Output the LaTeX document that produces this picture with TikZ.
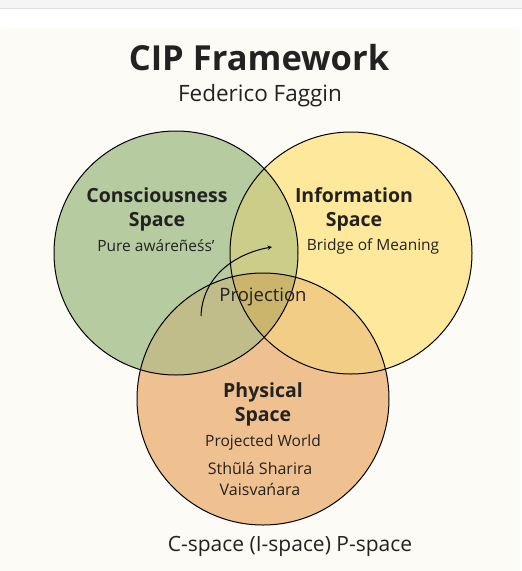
\documentclass[tikz,border=0pt]{standalone}
\usepackage{fontspec}
\setmainfont{Open Sans}

\definecolor{paper}{HTML}{FDFBF6}
\definecolor{topbar}{HTML}{F5F5F5}
\definecolor{ink}{HTML}{222222}
\definecolor{cgreen}{HTML}{B6CCA0}
\definecolor{iyellow}{HTML}{FDE89C}
\definecolor{porange}{HTML}{F0C190}
\definecolor{ci}{HTML}{CCCD88}
\definecolor{cp}{HTML}{C0BD8A}
\definecolor{ip}{HTML}{F2CD85}
\definecolor{cip}{HTML}{CBB46C}

\def\cspace{(176,253) circle (122pt)}
\def\ispace{(351,253) circle (121pt)}
\def\pspace{(263,399) circle (126pt)}

\begin{document}
\begin{tikzpicture}[x=1pt,y=-1pt]
	\tikzset{every node/.style={text=ink, inner sep=0pt, align=center},
		head/.style={font=\fontsize{19.5}{24}\selectfont\bfseries},
		sub/.style={font=\fontsize{15.5}{21}\selectfont}}

	\useasboundingbox (0,0) rectangle (522,571);
	\fill[white] (0,0) rectangle (522,571);
	\fill[topbar] (0,0) rectangle (522,8);
	\draw[black!12] (0,8) -- (522,8);
	\fill[paper, rounded corners=6pt] (0,28) rectangle (520,575);

	% the three spaces
	\fill[cgreen] \cspace;
	\fill[iyellow] \ispace;
	\fill[porange] \pspace;
	\begin{scope} \clip \cspace; \fill[ci] \ispace; \end{scope}
	\begin{scope} \clip \cspace; \fill[cp] \pspace; \end{scope}
	\begin{scope} \clip \ispace; \fill[ip] \pspace; \end{scope}
	\begin{scope} \clip \cspace; \clip \ispace; \fill[cip] \pspace; \end{scope}
	\draw[line width=1pt] \cspace \ispace \pspace;

	\node[font=\fontsize{34.5}{40}\selectfont\bfseries] (title) at (259,58) {CIP Framework};
	\node[font=\fontsize{22.5}{25}\selectfont] (author) at (260,96) {Federico Faggin};

	\node[head] (chead) at (157,209) {Consciousness\\Space};
	\node[sub] (csub) at (156,246) {Pure awáreñeśs'};

	\node[head] (ihead) at (354,209) {Information\\Space};
	\node[sub] (isub) at (373,246) {Bridge of Meaning};

	\node[font=\fontsize{18.5}{20}\selectfont] (proj) at (263,297) {Projection};

	\node[head] (phead) at (263,404) {Physical\\Space};
	\node[sub] (psub) at (263,442) {Projected World};
	\node[font=\fontsize{16}{21}\selectfont] (pnames) at (260,479) {Sthũlá Sharira\\Vaisvańara};

	\node[font=\fontsize{21}{23}\selectfont] (legend) at (290,546) {C-space (I-space) P-space};

	\coordinate (arrowstart) at (201,316);
	\coordinate (arrowend) at (272,247);
	\draw[-stealth, line width=1pt] (arrowstart) to[out=88,in=190] (arrowend);
\end{tikzpicture}
\end{document}
